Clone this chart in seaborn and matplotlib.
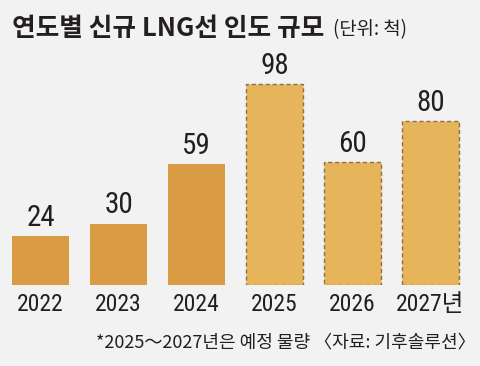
import matplotlib
matplotlib.use("Agg")
import matplotlib.pyplot as plt
import seaborn as sns
import pandas as pd

years = ["2022", "2023", "2024", "2025", "2026", "2027"]
tick_labels = ["2022", "2023", "2024", "2025", "2026", "2027년"]
values = [24, 30, 59, 98, 60, 80]
planned = [False, False, False, True, True, True]
title = "연도별 신규 LNG선 인도 규모"
unit = "(단위: 척)"
footnote = "*2025～2027년은 예정 물량 〈자료: 기후솔루션〉"

sns.set_theme(style="white")
plt.rcParams['font.family'] = ['Roboto Condensed', 'Noto Sans CJK KR', 'DejaVu Sans']

bg = "#f2f2f2"
past_color = "#d99b43"
future_color = "#e6b45b"
edge_color = "#8f7045"
text_color = "#231f20"

df = pd.DataFrame({"year": years, "value": values})
colors = [future_color if p else past_color for p in planned]

fig = plt.figure(figsize=(4.8, 3.66), dpi=100, facecolor=bg)
ax = fig.add_axes([1.5/480, 81/366, 468/480, 225.5/366])
ax.set_facecolor(bg)
sns.barplot(data=df, x="year", y="value", hue="year", palette=colors,
            legend=False, width=57/78, ax=ax, saturation=1)

for patch, p in zip(ax.patches, planned):
    if p:
        patch.set_edgecolor(edge_color)
        patch.set_linestyle((0, (3, 2)))
        patch.set_linewidth(1.0)
    else:
        patch.set_edgecolor("none")

for i, v in enumerate(values):
    ax.annotate(str(v), (i, v), xytext=(0, 3), textcoords="offset points",
                ha="center", va="bottom", fontsize=21, color=text_color)

ax.set_xlim(-0.5, 5.5)
ax.set_ylim(0, 110)
ax.set_xlabel("")
ax.set_ylabel("")
ax.set_yticks([])
ax.set_xticks(range(len(years)))
ax.set_xticklabels(tick_labels, fontsize=17, color=text_color)
ax.tick_params(axis="x", length=0, pad=6)
for s in ax.spines.values():
    s.set_visible(False)

fig.text(12/480, 1 - 36/366, title, fontsize=18.5, fontweight="bold",
         family=['Noto Sans CJK KR'], color=text_color, va="baseline", ha="left")
fig.text(333/480, 1 - 35/366, unit, fontsize=13.5,
         family=['Noto Sans CJK KR'], color=text_color, va="baseline", ha="left")
fig.text(476/480, 1 - 347/366, footnote, fontsize=13,
         family=['Noto Sans CJK KR'], color=text_color, va="baseline", ha="right")

fig.savefig("out.png", dpi=100, facecolor=bg)
